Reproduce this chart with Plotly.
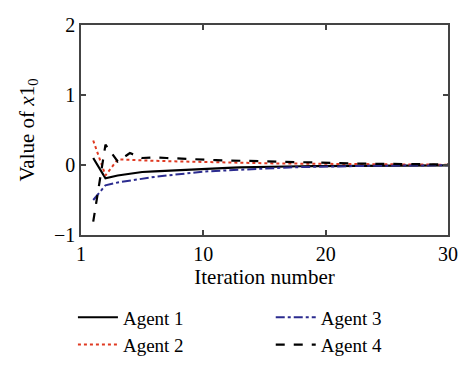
import plotly.graph_objects as go

iterations = list(range(1, 31))
agent1 = [0.10, -0.19, -0.15, -0.12, -0.10, -0.09, -0.08, -0.07, -0.06, -0.05,
          -0.045, -0.04, -0.035, -0.03, -0.027, -0.024, -0.021, -0.018, -0.016, -0.014,
          -0.012, -0.011, -0.010, -0.009, -0.008, -0.007, -0.006, -0.005, -0.004, -0.004]
agent2 = [0.35, -0.15, 0.08, 0.07, 0.06, 0.06, 0.055, 0.05, 0.045, 0.04,
          0.037, 0.034, 0.031, 0.028, 0.025, 0.022, 0.020, 0.018, 0.016, 0.014,
          0.012, 0.011, 0.010, 0.009, 0.008, 0.007, 0.006, 0.005, 0.005, 0.004]
agent3 = [-0.50, -0.29, -0.25, -0.22, -0.19, -0.17, -0.15, -0.13, -0.11, -0.095,
          -0.085, -0.075, -0.065, -0.055, -0.048, -0.040, -0.035, -0.030, -0.025, -0.020,
          -0.017, -0.015, -0.013, -0.011, -0.009, -0.008, -0.007, -0.006, -0.005, -0.004]
agent4 = [-0.81, 0.29, 0.05, 0.17, 0.10, 0.11, 0.10, 0.09, 0.08, 0.075,
          0.07, 0.065, 0.06, 0.055, 0.05, 0.045, 0.04, 0.036, 0.032, 0.028,
          0.025, 0.022, 0.019, 0.017, 0.015, 0.013, 0.011, 0.010, 0.009, 0.008]

x_tickvals = [0, 10, 20, 30]
x_ticktext = ["1", "10", "20", "30"]
y_tickvals = [-1, 0, 1, 2]

FONT = "Liberation Serif"

fig = go.Figure()
fig.add_trace(go.Scatter(x=iterations, y=agent1, mode="lines", name="Agent 1", showlegend=True,
                         line=dict(color="black", width=2.2, dash="solid"), legend="legend"))
fig.add_trace(go.Scatter(x=iterations, y=agent2, mode="lines", name="Agent 2", showlegend=True,
                         line=dict(color="#e03a22", width=2, dash="dot"), legend="legend2"))
fig.add_trace(go.Scatter(x=iterations, y=agent3, mode="lines", name="Agent 3", showlegend=True,
                         line=dict(color="#2b2b8f", width=2, dash="dashdot"), legend="legend3"))
fig.add_trace(go.Scatter(x=iterations, y=agent4, mode="lines", name="Agent 4", showlegend=True,
                         line=dict(color="black", width=2.2, dash="dash"), legend="legend4"))

axis_common = dict(showline=True, mirror="ticks", linecolor="#444", linewidth=1.5,
                   ticks="inside", ticklen=5, tickcolor="#444", tickwidth=1.5,
                   showgrid=False, zeroline=False,
                   tickfont=dict(family=FONT, size=20, color="black"))

legend_common = dict(xanchor="left", yanchor="top", orientation="v",
                     font=dict(family=FONT, size=19), itemwidth=40,
                     bgcolor="rgba(0,0,0,0)")

fig.update_layout(
    width=474, height=377,
    showlegend=True,
    margin=dict(l=81, r=26, t=25, b=142),
    plot_bgcolor="white", paper_bgcolor="white",
    font=dict(family=FONT, size=18, color="black"),
    xaxis=dict(range=[0, 30], tickvals=x_tickvals, ticktext=x_ticktext,
               title=dict(text="Iteration number", font=dict(family=FONT, size=21), standoff=4),
               **axis_common),
    yaxis=dict(range=[-1, 2], tickvals=y_tickvals,
               title=dict(text="Value of <i>x</i>1<sub>0</sub>", font=dict(family=FONT, size=21), standoff=14),
               **axis_common),
    legend=dict(x=-0.022, y=-0.302, **legend_common),
    legend2=dict(x=-0.022, y=-0.432, **legend_common),
    legend3=dict(x=0.517, y=-0.302, **legend_common),
    legend4=dict(x=0.517, y=-0.432, **legend_common),
)

fig.write_html("out.html", config={"displayModeBar": False},
               post_script="document.body.style.margin='0';document.body.style.padding='0';")
